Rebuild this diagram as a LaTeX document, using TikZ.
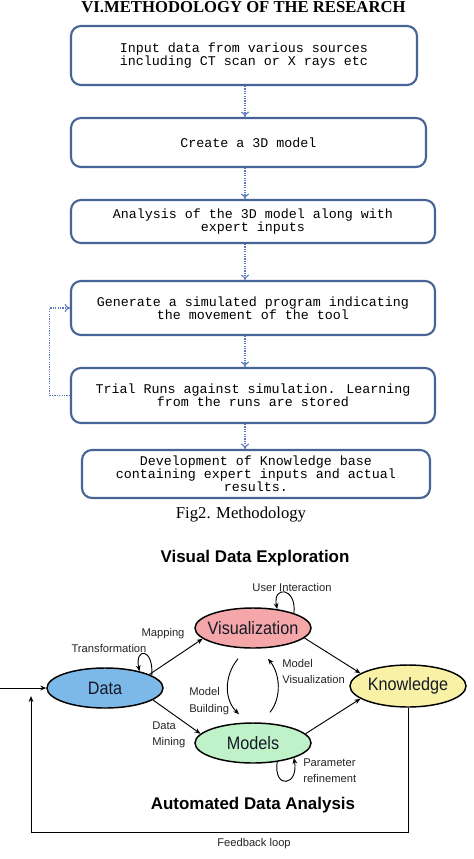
\documentclass[tikz,border=0pt]{standalone}
\usepackage{fontspec}
\setmainfont{Liberation Serif}
\newfontfamily\boxfont{Liberation Mono}
\newfontfamily\arialf{Liberation Sans}
\newfontfamily\ellfont[FakeStretch=0.9]{Liberation Sans}
\usetikzlibrary{shapes.geometric,arrows.meta,calc}
\definecolor{boxline}{RGB}{70,100,150}
\definecolor{arrblue}{RGB}{90,120,190}
\definecolor{visfill}{RGB}{244,166,168}
\definecolor{datafill}{RGB}{124,185,232}
\definecolor{knowfill}{RGB}{249,241,165}
\definecolor{modfill}{RGB}{191,242,200}
\definecolor{elltext}{RGB}{20,25,40}
\begin{document}
\begin{tikzpicture}[x=0.75pt,y=-0.75pt,
  stepbox/.style={draw=boxline,line width=1.6pt,rounded corners=7.5pt,inner sep=0pt,
    align=center,font=\boxfont\fontsize{10pt}{9.6pt}\selectfont},
  flowarr/.style={draw=arrblue,densely dotted,line width=0.8pt,-{To[length=4pt,width=6pt]}},
  ell/.style={ellipse,draw=black,line width=1.1pt,minimum width=87pt,minimum height=30pt,
    inner sep=0pt,text=elltext,font=\ellfont\fontsize{13.5pt}{14pt}\selectfont},
  lab/.style={font=\arialf\fontsize{8.4pt}{12.3pt}\selectfont,inner sep=0pt,text=black!85},
  ttl/.style={font=\arialf\bfseries\fontsize{12.7pt}{14pt}\selectfont,inner sep=0pt},
  darr/.style={line width=0.7pt,-{Stealth[length=4.5pt,width=3.6pt]}}
]
\useasboundingbox[fill=white] (0,0) rectangle (474,859);

% ---------- top flowchart ----------
\node[font=\bfseries\fontsize{12.5pt}{14pt}\selectfont,inner sep=0pt,anchor=base] (title) at (243.5,12.5) {VI.METHODOLOGY OF THE RESEARCH};

\node[stepbox,minimum width=259.5pt,minimum height=44.25pt] (b1) at (244,55.5)
  {Input data from various sources\\including CT scan or X rays etc};
\node[stepbox,minimum width=266.25pt,minimum height=36.75pt] (b2) at (248.5,142.5)
  {Create a 3D model};
\node[stepbox,minimum width=273pt,minimum height=32.25pt] (b3) at (253,221.5)
  {Analysis of the 3D model along with\\expert inputs};
\node[stepbox,minimum width=273pt,minimum height=40.5pt] (b4) at (253,308)
  {Generate a simulated program indicating\\the movement of the tool};
\node[stepbox,minimum width=273pt,minimum height=41.25pt] (b5) at (253,395.5)
  {Trial Runs against simulation. Learning\\from the runs are stored};
\node[stepbox,minimum width=261pt,minimum height=36pt] (b6) at (256,474)
  {Development of Knowledge base\\containing expert inputs and actual\\results.};

\coordinate (col) at (245,0);
\draw[flowarr] (b1.south -| col) -- (b2.north -| col);
\draw[flowarr] (b2.south -| col) -- (b3.north -| col);
\draw[flowarr] (b3.south -| col) -- (b4.north -| col);
\draw[flowarr] (b4.south -| col) -- (b5.north -| col);
\draw[flowarr] (b5.south -| col) -- (b6.north -| col);
\draw[flowarr] (b5.west) -- ++(-20,0) |- (b4.west);

\node[font=\fontsize{12.5pt}{14pt}\selectfont,inner sep=0pt,anchor=base] (cap) at (241,518) {Fig2. Methodology};

% ---------- bottom diagram ----------
\node[ttl] (vde) at (255,558) {Visual Data Exploration};
\node[ttl] (ada) at (253,805) {Automated Data Analysis};

\node[ell,fill=visfill] (v) at (253,628) {\makebox[0pt]{Visualization}};
\node[ell,fill=datafill] (d) at (105,688) {\makebox[0pt]{Data}};
\node[ell,fill=knowfill,minimum height=31.5pt] (k) at (408,686) {\makebox[0pt]{Knowledge}};
\node[ell,fill=modfill] (m) at (253,743) {\makebox[0pt]{Models}};

\node[lab] (lui) at (292,587) {User Interaction};
\node[lab] (ltr) at (109,648) {Transformation};
\node[lab] (lmap) at (163,634) {Mapping};
\node[lab,anchor=west,align=left] (lmv) at (282,671.5) {Model\\Visualization};
\node[lab,anchor=west,align=left] (lmb) at (189,701) {Model\\Building};
\node[lab,anchor=west,align=left] (ldm) at (152,735) {Data\\Mining};
\node[lab,anchor=west,align=left] (lpr) at (303,770.5) {Parameter\\refinement};
\node[lab] (lfb) at (254,844) {Feedback loop};

% main arrows
\draw[darr] (d.17) -- (v.192);
\draw[darr] (v.-11) -- (k.165);
\draw[darr] (d.-14) -- (m.170);
\draw[darr] (m.10) -- (k.195);

% self loops
\draw[darr] (v.20) .. controls +(3,-26) and +(-5,-24) .. (v.38);
\draw[darr] (d.15) .. controls +(2,-28) and +(-5,-24) .. (d.26);
\draw[darr] (m.-38) .. controls +(-4,28) and +(5,28) .. (m.-20);

% model building / model visualization arcs
\draw[darr] ($(v.south)+(-15,10)$) .. controls +(-14,17) and +(-15,-15) .. ($(m.north)+(-14,-8)$);
\draw[darr] ($(m.north)+(17,-10)$) .. controls +(12,-15) and +(12,15) .. ($(v.south)+(15,10)$);

% input and feedback
\coordinate (inp) at (0,688);
\draw[darr] (inp) -- (d.west);
\coordinate (fbend) at (31,696);
\draw[darr] (k.south) -- (k.south |- 0,832) -| (fbend);
\end{tikzpicture}
\end{document}
